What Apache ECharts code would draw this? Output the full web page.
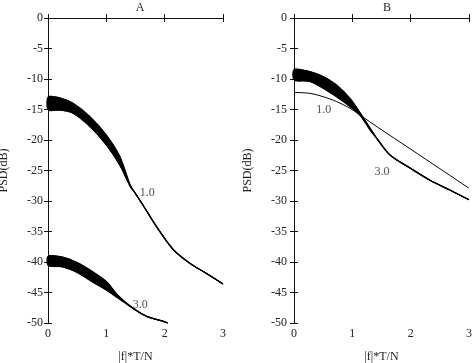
<!DOCTYPE html>
<html><head><meta charset="utf-8">
<script src="https://cdn.jsdelivr.net/npm/echarts@6/dist/echarts.min.js"></script>
<style>html,body{margin:0;padding:0;background:#fff}#c{width:474px;height:363px}</style>
</head><body><div id="c"></div>
<script>
// ---- data ----
var yTicks = [0, -5, -10, -15, -20, -25, -30, -35, -40, -45, -50];
var xTicks = [0, 1, 2, 3];
var panelTitles = ['A', 'B'];

// Panel A, curve "1.0" (band then single line)
var a1X     = [0, 0.2, 0.43, 0.72, 1.0, 1.23, 1.41, 1.5, 1.63, 1.86, 2.15, 2.43, 2.72, 3.0];
var a1Upper = [-12.9, -13.1, -14.0, -16.2, -19.2, -22.7, -27.4, -28.8, -30.7, -34.2, -38.0, -40.2, -41.9, -43.6];
var a1Lower = [-15.1, -15.1, -15.6, -17.8, -20.8, -24.1, -27.6, -28.8, -30.7, -34.2, -38.0, -40.2, -41.9, -43.6];
// Panel A, curve "3.0"
var a3X     = [0, 0.25, 0.5, 0.75, 1.0, 1.2, 1.46, 1.69, 2.0, 2.05];
var a3Upper = [-39.0, -39.2, -40.1, -41.5, -43.2, -45.5, -47.6, -48.9, -49.8, -50.0];
var a3Lower = [-40.6, -40.8, -41.7, -43.2, -44.6, -45.9, -47.6, -48.9, -49.8, -50.0];
// Panel B, band curve
var b3X     = [0, 0.27, 0.5, 0.73, 0.96, 1.13, 1.3, 1.44, 1.65, 1.99, 2.33, 2.67, 3.0];
var b3Upper = [-8.4, -8.8, -9.6, -11.0, -13.2, -15.5, -18.0, -20.0, -22.5, -24.6, -26.6, -28.2, -29.8];
var b3Lower = [-10.2, -10.4, -11.5, -12.9, -14.5, -15.9, -18.3, -20.0, -22.5, -24.6, -26.6, -28.2, -29.8];
// Panel B, thin curve
var b1X = [0, 0.27, 0.5, 0.73, 0.96, 1.13, 1.45, 2.0, 2.5, 3.0];
var b1Y = [-12.2, -12.35, -12.9, -13.7, -14.8, -15.9, -18.0, -21.5, -24.7, -27.9];

// curve labels: [panel, x, y, text]
var curveLabels = [[0, 1.70, -28.7, '1.0'], [0, 1.58, -47.0, '3.0'], [1, 0.51, -15.1, '1.0'], [1, 1.51, -25.2, '3.0']];

// ---- build ----
var FONT = 'Liberation Serif';
function pairs(xs, ys) { return xs.map(function (x, i) { return [x, ys[i]]; }); }

var grids = [
  { left: 48, right: 251, top: 18, bottom: 40, outerBoundsMode: 'none', containLabel: false },
  { left: 294, right: 5, top: 18, bottom: 40, outerBoundsMode: 'none', containLabel: false }
];
var xAxes = [], yAxes = [];
[0, 1].forEach(function (g) {
  var common = { min: 0, max: 3, interval: 1, gridIndex: g, splitLine: { show: false },
    axisLine: { lineStyle: { color: '#111', width: 1 } },
    axisTick: { inside: true, length: 4, lineStyle: { color: '#111' } } };
  xAxes.push(Object.assign({ type: 'value', position: 'bottom',
    name: '|f|*T/N', nameLocation: 'middle', nameGap: 28,
    nameTextStyle: { fontFamily: FONT, fontSize: 12, color: '#222' },
    axisLabel: { fontFamily: FONT, fontSize: 12, color: '#222', margin: 5,
      formatter: function (v) { return xTicks.indexOf(v) >= 0 ? String(v) : ''; } } }, common));
  xAxes.push(Object.assign({ type: 'value', position: 'top', axisLabel: { show: false } }, common));
  var ycommon = { min: -50, max: 0, interval: 5, gridIndex: g, splitLine: { show: false },
    axisLine: { lineStyle: { color: '#111', width: 1 } },
    axisTick: { inside: true, length: 4, lineStyle: { color: '#111' } } };
  yAxes.push(Object.assign({ type: 'value', position: 'left',
    name: 'PSD(dB)', nameLocation: 'middle', nameGap: g === 0 ? 38 : 40, nameRotate: 90,
    nameTextStyle: { fontFamily: FONT, fontSize: 12, color: '#222' },
    axisLabel: { fontFamily: FONT, fontSize: 12, color: '#222', margin: g === 0 ? 5 : 7,
      formatter: function (v) { return yTicks.indexOf(v) >= 0 ? String(v) : ''; } } }, ycommon));
  yAxes.push(Object.assign({ type: 'value', position: 'right', axisLabel: { show: false } }, ycommon));
});

function band(g, xs, up, lo) {
  var ax = g * 2;
  return [
    { type: 'custom', xAxisIndex: ax, yAxisIndex: ax, data: [[xs[0], up[0]]], z: 2, silent: true,
      renderItem: function (params, api) {
        var pts = [];
        for (var i = 0; i < xs.length; i++) pts.push(api.coord([xs[i], up[i]]));
        for (var j = xs.length - 1; j >= 0; j--) pts.push(api.coord([xs[j], lo[j]]));
        return { type: 'polygon', shape: { points: pts, smooth: 0.25 }, style: { fill: '#000', stroke: '#000', lineWidth: 1 } };
      } },
    { type: 'line', xAxisIndex: ax, yAxisIndex: ax, data: pairs(xs, up), smooth: 0.3, symbol: 'none',
      lineStyle: { color: '#000', width: 1.3 }, z: 3 },
    { type: 'line', xAxisIndex: ax, yAxisIndex: ax, data: pairs(xs, lo), smooth: 0.3, symbol: 'none',
      lineStyle: { color: '#000', width: 1.3 }, z: 3 }
  ];
}

var series = [].concat(
  band(0, a1X, a1Upper, a1Lower),
  band(0, a3X, a3Upper, a3Lower),
  band(1, b3X, b3Upper, b3Lower),
  [{ type: 'line', xAxisIndex: 2, yAxisIndex: 2, data: pairs(b1X, b1Y), smooth: 0.3, symbol: 'none',
     lineStyle: { color: '#000', width: 1 }, z: 3 }]
);
[0, 1].forEach(function (g) {
  series.push({ type: 'scatter', xAxisIndex: g * 2, yAxisIndex: g * 2, symbolSize: 0, silent: true, z: 4,
    data: curveLabels.filter(function (l) { return l[0] === g; }).map(function (l) {
      return { value: [l[1], l[2]], label: { show: true, position: 'inside', formatter: l[3],
        fontFamily: FONT, fontSize: 12, color: '#222' } };
    }) });
});

var chart = echarts.init(document.getElementById('c'), null, { renderer: 'canvas' });
chart.setOption({
  animation: false,
  backgroundColor: '#fff',
  title: [
    { text: panelTitles[0], left: 135, top: -3, textAlign: 'center', textStyle: { fontFamily: FONT, fontSize: 12, fontWeight: 'normal', color: '#222' } },
    { text: panelTitles[1], left: 382, top: -3, textAlign: 'center', textStyle: { fontFamily: FONT, fontSize: 12, fontWeight: 'normal', color: '#222' } }
  ],
  grid: grids,
  xAxis: xAxes,
  yAxis: yAxes,
  series: series
});
</script></body></html>
